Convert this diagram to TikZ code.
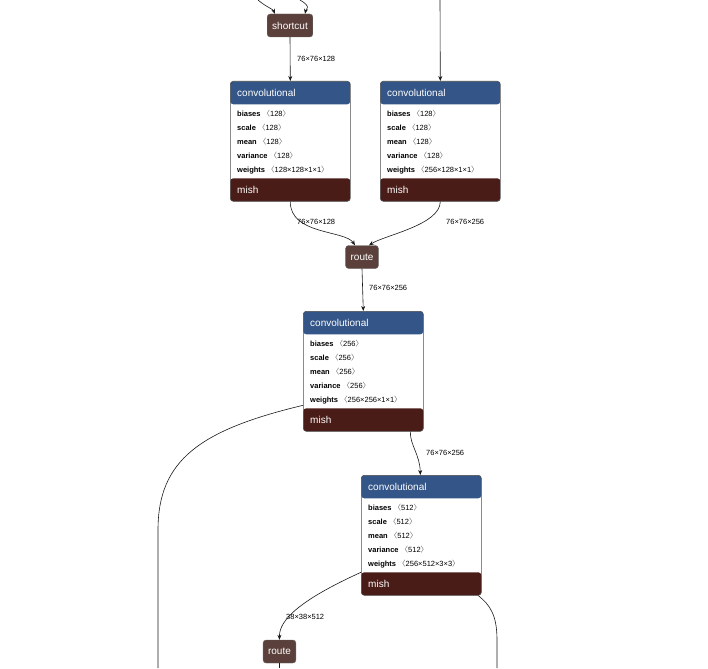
\documentclass[tikz,border=0pt]{standalone}
\usepackage{fontspec}
\setmainfont{Liberation Sans}
\newfontfamily\cjk{Noto Sans CJK SC}
\usetikzlibrary{arrows.meta}
\definecolor{hdr}{HTML}{335588}
\definecolor{ftr}{HTML}{4A1C17}
\definecolor{opn}{HTML}{5A3F3A}
\definecolor{br}{HTML}{666666}
\tikzset{
  convbox/.style={draw=black!70,line width=0.6pt,rounded corners=3pt,minimum width=120pt,minimum height=120pt,inner sep=0pt,anchor=north west,
    path picture={
      \fill[hdr] (path picture bounding box.north west) rectangle ([yshift=-23pt]path picture bounding box.north east);
      \fill[ftr] ([yshift=23pt]path picture bounding box.south west) rectangle (path picture bounding box.south east);}},
  opbox/.style={fill=opn,draw=black!60,rounded corners=3pt,text=white,font=\fontsize{10}{12}\selectfont,minimum height=23pt,inner xsep=5pt},
  edge/.style={draw=black!90,line width=0.6pt,-{Stealth[length=5pt,width=4pt]}},
  line/.style={draw=black!90,line width=0.6pt},
  lbl/.style={font=\fontsize{7.5}{9}\selectfont,anchor=west,inner sep=0pt},
  ttl/.style={text=white,font=\fontsize{10}{12}\selectfont,anchor=west,inner sep=0pt},
  attr/.style={font=\fontsize{7.5}{9}\selectfont,anchor=west,inner sep=0pt},
}
\newcommand{\bk}[1]{{\color{br}\cjk〈}#1{\color{br}\cjk〉}}
\newcommand{\convnode}[8]{%
  \node[convbox] (#1) at (#2,#3) {};
  \node[ttl] (#1t) at (#2+7,#3+12) {convolutional};
  \node[attr] (#1a) at (#2+7,#3+33) {\textbf{biases} \bk{#4}};
  \node[attr] (#1b) at (#2+7,#3+47) {\textbf{scale} \bk{#5}};
  \node[attr] (#1c) at (#2+7,#3+61) {\textbf{mean} \bk{#6}};
  \node[attr] (#1d) at (#2+7,#3+75) {\textbf{variance} \bk{#7}};
  \node[attr] (#1e) at (#2+7,#3+89) {\textbf{weights} \bk{#8}};
  \node[ttl] (#1f) at (#2+7,#3+109) {mish};
}
\begin{document}
\begin{tikzpicture}[x=1pt,y=-1pt]
\useasboundingbox (0,0) rectangle (708,668);
\node[opbox] (sc) at (290,25.5) {shortcut};
\convnode{c1}{230}{81}{128}{128}{128}{128}{128×128×1×1}
\convnode{c2}{380}{81}{128}{128}{128}{128}{256×128×1×1}
\node[opbox] (r1) at (362,257) {route};
\convnode{c3}{303}{311}{256}{256}{256}{256}{256×256×1×1}
\convnode{c4}{361}{475}{512}{512}{512}{512}{256×512×3×3}
\node[opbox] (r2) at (279.5,651.5) {route};
\coordinate (t1) at (258,0);
\coordinate (t2) at (300,0);
\coordinate (t3) at (440,0);
\coordinate (b1) at (158,668);
\coordinate (b2) at (497,668);
\coordinate (b3) at (279.5,668);
\draw[edge] (t1) .. controls (266,7) and (273,9) .. ([xshift=-15pt]sc.north);
\draw[edge] (t2) .. controls (312,7) and (306,9) .. ([xshift=15pt]sc.north);
\draw[edge] (t3) -- (c2.north);
\draw[edge] (sc.south) -- (c1.north);
\node[lbl] at (297,59) {76×76×128};
\draw[edge] (c1.south) .. controls (290,235) and (345,230) .. ([xshift=-7pt]r1.north);
\node[lbl] at (297,222) {76×76×128};
\draw[edge] (c2.south) .. controls (440,225) and (385,235) .. ([xshift=7pt]r1.north);
\node[lbl] at (446,222) {76×76×256};
\draw[edge] (r1.south) -- (c3.north);
\node[lbl] at (369,288) {76×76×256};
\draw[edge] ([xshift=47pt]c3.south) .. controls (410,445) and (420,455) .. ([xshift=-1pt]c4.north);
\node[lbl] at (426,453) {76×76×256};
\draw[line] ([yshift=-34pt]c3.west) .. controls (200,430) and (158,460) .. (158,530) -- (b1);
\draw[edge] ([yshift=-37pt]c4.west) .. controls (300,600) and (279,620) .. (r2.north);
\node[lbl] at (286,617) {38×38×512};
\draw[line] ([xshift=57pt]c4.south) .. controls (490,605) and (497,615) .. (497,640) -- (b2);
\draw[line] (r2.south) -- (b3);
\end{tikzpicture}
\end{document}
